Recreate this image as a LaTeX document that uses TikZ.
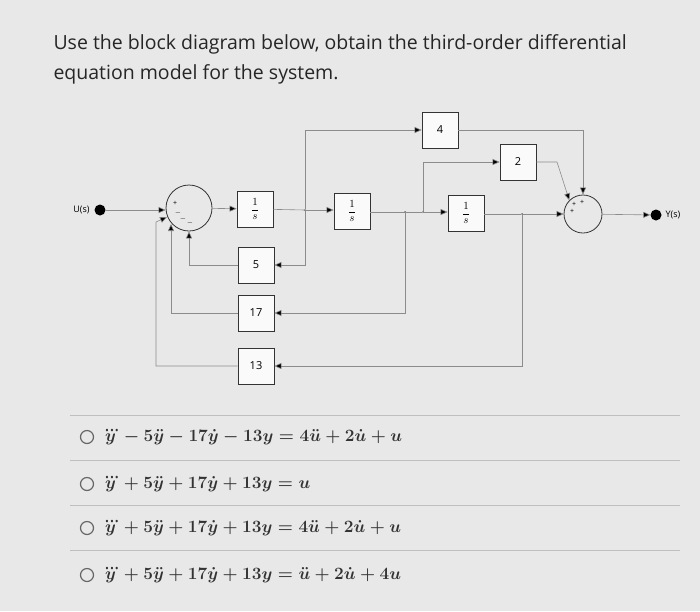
\documentclass[tikz,border=0pt]{standalone}
\usepackage{amsmath}
\usepackage{fontspec}
\setmainfont{Open Sans}
\usetikzlibrary{arrows.meta}
\begin{document}
\begin{tikzpicture}[x=1pt,y=-1pt,
  blk/.style={draw=black!80,fill=white!96!gray,line width=0.8pt,minimum width=36pt,minimum height=36pt,inner sep=0pt,font=\fontsize{11}{13}\selectfont},
  sm/.style={draw=black!80,circle,line width=0.8pt,inner sep=0pt},
  w/.style={draw=black!45,line width=0.6pt},
  a/.style={w,-{Triangle[length=7pt,width=6pt,fill=black]}},
  dt/.style={circle,fill=black!60,inner sep=0pt,minimum size=2pt},
  sg/.style={font=\scriptsize,inner sep=0pt},
  opt/.style={anchor=west,font=\fontsize{18.5}{21}\selectfont\boldmath,text=black!80},
  rad/.style={circle,draw=black!60,line width=1.2pt,minimum size=13pt,inner sep=0pt}]
\fill[black!9] (0,0) rectangle (700,611);
\useasboundingbox (0,0) rectangle (700,611);
\node[anchor=west,font=\fontsize{19.5}{22}\selectfont,text=black!85] (t1) at (50,44) {Use the block diagram below, obtain the third-order differential};
\node[anchor=west,font=\fontsize{19.5}{22}\selectfont,text=black!85] (t2) at (50,74) {equation model for the system.};
% blocks
\node[sm,minimum size=46pt] (s1) at (189,208) {};
\node[sm,minimum size=38pt] (s2) at (583,214) {};
\node[blk] (i1) at (255,209) {$\dfrac{1}{s}$};
\node[blk] (i2) at (352,211) {$\dfrac{1}{s}$};
\node[blk] (i3) at (466,213) {$\dfrac{1}{s}$};
\node[blk] (k4) at (440,130) {4};
\node[blk] (k2) at (518,162) {2};
\node[blk] (k5) at (256,265) {5};
\node[blk] (k17) at (256,313) {17};
\node[blk] (k13) at (256,366) {13};
\node[circle,fill=black,minimum size=11pt,inner sep=0pt] (u) at (100,210) {};
\node[anchor=east,font=\small] (ul) at (93,210) {U(s)};
\node[circle,fill=black,minimum size=11pt,inner sep=0pt] (y) at (656,215) {};
\node[anchor=west,font=\small] (yl) at (662,215) {Y(s)};
\node[dt] (b1) at (305,210) {};
\node[dt] (b2) at (405,212) {};
\node[dt] (b3) at (423,212) {};
\node[dt] (b4) at (522,214) {};
% forward
\draw[a] (u) -- (s1.west |- u);
\draw[a] (s1) -- (i1);
\draw[w] (i1) -- (b1);
\draw[a] (b1) -- (i2.west |- b1);
\draw[w] (i2.east |- b2) -- (b3);
\draw[a] (b3) -- (i3.west |- b3);
\draw[w] (i3.east |- b4) -- (b4);
\draw[a] (b4) -- (s2.west |- b4);
\draw[a] (s2) -- (y);
% feedforward
\draw[a] (b1) |- (k4);
\draw[a] (k4) -| (s2.north);
\draw[a] (b3) |- (k2);
\draw[a] (k2.east) -- (557,162) -- (s2.north west);
% feedback
\draw[a] (b1) |- (k5.east);
\draw[a] (k5.west) -| (s1.south);
\draw[a] (b2) |- (k17.east);
\draw[a] (k17.west) -| (171,224);
\draw[a] (b4) |- (k13.east);
\draw[a] (k13.west) -| (156,222) -- (167,217);
% signs
\node[sg] (p1) at (175,203) {+};
\node[sg] (m1) at (178,213) {$-$};
\node[sg] (m2) at (183,219) {$-$};
\node[sg] (m3) at (190,223) {$-$};
\node[sg] (q1) at (572,211) {+};
\node[sg] (q2) at (574,204) {+};
\node[sg] (q3) at (582,202) {+};
% options
\draw[black!25] (70,415) -- (680,415);
\draw[black!25] (70,460) -- (680,460);
\draw[black!25] (70,505) -- (680,505);
\draw[black!25] (70,550) -- (680,550);
\node[rad] (r1) at (87,437) {};
\node[rad] (r2) at (87,484) {};
\node[rad] (r3) at (87,528) {};
\node[rad] (r4) at (87,575) {};
\node[opt] (e1) at (98,437) {$\dddot{y}-5\ddot{y}-17\dot{y}-13y=4\ddot{u}+2\dot{u}+u$};
\node[opt] (e2) at (98,484) {$\dddot{y}+5\ddot{y}+17\dot{y}+13y=u$};
\node[opt] (e3) at (98,528) {$\dddot{y}+5\ddot{y}+17\dot{y}+13y=4\ddot{u}+2\dot{u}+u$};
\node[opt] (e4) at (98,575) {$\dddot{y}+5\ddot{y}+17\dot{y}+13y=\ddot{u}+2\dot{u}+4u$};
\end{tikzpicture}
\end{document}
